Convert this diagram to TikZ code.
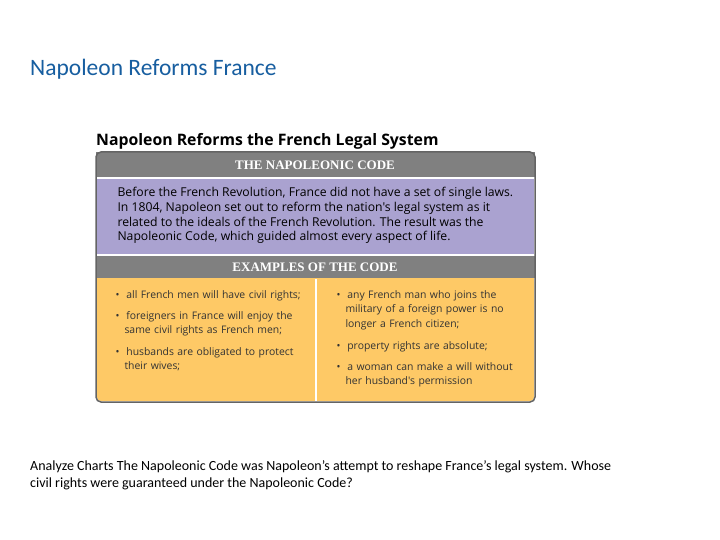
\documentclass[tikz,border=0pt]{standalone}
\usepackage{fontspec}
\setmainfont{Carlito}
\newfontfamily\chartfont{Open Sans}
\newfontfamily\slabfont{Liberation Serif}
\definecolor{ttl}{RGB}{23,94,160}
\definecolor{hdr}{RGB}{128,128,128}
\definecolor{purp}{RGB}{170,162,208}
\definecolor{yel}{RGB}{254,201,102}
\definecolor{bord}{RGB}{100,100,100}
\begin{document}
\begin{tikzpicture}[x=1pt,y=-1pt,
  hdrtext/.style={text=white,font=\slabfont\bfseries\fontsize{13}{14}\selectfont},
  bodytext/.style={anchor=north west,align=left,font=\chartfont\fontsize{12.2}{14.7}\selectfont,text=black},
  bul/.style={anchor=north west,align=left,font=\chartfont\fontsize{10.4}{14.5}\selectfont,text=black!80,text width=195pt},
  captext/.style={anchor=west,font=\fontsize{14}{16}\selectfont}]
\useasboundingbox (0,0) rectangle (720,540);
\fill[white] (0,0) rectangle (720,540);
\node[anchor=west,text=ttl,font=\fontsize{23.5}{26}\selectfont,inner sep=0pt] (title) at (30,69) {Napoleon Reforms France};
\node[anchor=west,font=\chartfont\bfseries\fontsize{15.8}{17}\selectfont,inner sep=0pt] (ctitle) at (96,141) {Napoleon Reforms the French Legal System};
% sections
\fill[hdr] (96,152) rectangle (535,177);
\fill[purp] (97,179) rectangle (534,254);
\fill[hdr] (96,256) rectangle (535,278);
\fill[yel,rounded corners=4pt] (97,278) -- (97,401) -- (534,401) -- (534,278) -- cycle;
\fill[yel] (97,278) rectangle (534,290);
\draw[white,line width=2pt] (316,279) -- (316,401);
\draw[bord,line width=1.5pt,rounded corners=5pt] (96,152) -- (96,402) -- (535,402) -- (535,152) -- cycle;
\node[hdrtext] (h1) at (315,165) {THE NAPOLEONIC CODE};
\node[hdrtext] (h2) at (315,267) {EXAMPLES OF THE CODE};
\node[bodytext] (body) at (114,184) {Before the French Revolution, France did not have a set of single laws.\\In 1804, Napoleon set out to reform the nation's legal system as it\\related to the ideals of the French Revolution. The result was the\\Napoleonic Code, which guided almost every aspect of life.};
\node[bul] (l1) at (112,287) {\textbullet\ \ all French men will have civil rights;};
\node[bul] (l2) at (112,308) {\textbullet\ \ foreigners in France will enjoy the\\\hspace*{9pt}same civil rights as French men;};
\node[bul] (l3) at (112,344) {\textbullet\ \ husbands are obligated to protect\\\hspace*{9pt}their wives;};
\node[bul] (r1) at (333,287) {\textbullet\ \ any French man who joins the\\\hspace*{9pt}military of a foreign power is no\\\hspace*{9pt}longer a French citizen;};
\node[bul] (r2) at (333,338) {\textbullet\ \ property rights are absolute;};
\node[bul] (r3) at (333,359) {\textbullet\ \ a woman can make a will without\\\hspace*{9pt}her husband's permission};
\node[captext,inner sep=0pt] (c1) at (30,467) {Analyze Charts The Napoleonic Code was Napoleon's attempt to reshape France’s legal system. Whose};
\node[captext,inner sep=0pt] (c2) at (30,484) {civil rights were guaranteed under the Napoleonic Code?};
\end{tikzpicture}
\end{document}
